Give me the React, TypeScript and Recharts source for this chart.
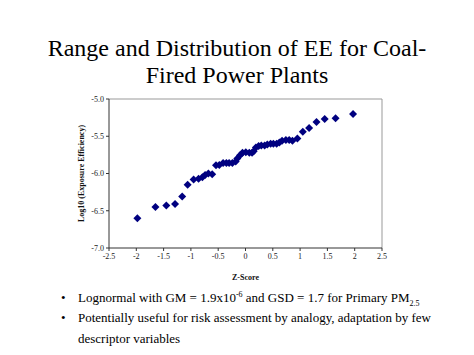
import { ScatterChart, Scatter, XAxis, YAxis, ReferenceLine } from 'recharts'

const zScores = [
  -1.98, -1.65, -1.45, -1.29, -1.16, -1.06, -0.95, -0.86, -0.79, -0.74,
  -0.68, -0.61, -0.54, -0.48, -0.41, -0.35, -0.3, -0.24, -0.18, -0.15,
  -0.1, -0.055, 0.006, 0.07, 0.12, 0.15, 0.19, 0.24, 0.29, 0.35,
  0.4, 0.46, 0.51, 0.57, 0.62, 0.67, 0.74, 0.8, 0.86, 0.95,
  1.05, 1.165, 1.3, 1.45, 1.65, 1.97,
]
const logEE = [
  -6.6, -6.45, -6.43, -6.41, -6.31, -6.15, -6.08, -6.07, -6.05, -6.02,
  -6.0, -6.01, -5.89, -5.885, -5.86, -5.86, -5.86, -5.86, -5.84, -5.8,
  -5.755, -5.72, -5.715, -5.72, -5.72, -5.7, -5.65, -5.63, -5.625, -5.625,
  -5.61, -5.6, -5.6, -5.6, -5.585, -5.56, -5.55, -5.55, -5.56, -5.53,
  -5.44, -5.39, -5.31, -5.27, -5.26, -5.2,
]
const xTicks = [-2.5, -2, -1.5, -1, -0.5, 0, 0.5, 1, 1.5, 2, 2.5]
const yTicks = [-7.0, -6.5, -6.0, -5.5, -5.0]

const data = zScores.map((z, i) => ({ z, ee: logEE[i] }))

const serif = '"Liberation Serif", "Times New Roman", serif'

const Diamond = (props: any) => {
  const { cx, cy } = props
  const r = 4
  return (
    <polygon
      points={`${cx},${cy - r} ${cx + r},${cy} ${cx},${cy + r} ${cx - r},${cy}`}
      fill='#000080'
    />
  )
}

export default function App() {
  const tick = { fontSize: 8, fontFamily: serif, fill: '#222' }
  const line = { position: 'absolute' as const, lineHeight: '20px', whiteSpace: 'nowrap' as const }
  return (
    <div style={{ position: 'relative', width: 474, height: 355, margin: -8, background: '#fff', fontFamily: serif, color: '#000' }}>
      <div style={{ position: 'absolute', left: 0, top: 35, width: 474, textAlign: 'center', fontSize: 24, lineHeight: '27px' }}>
        Range and Distribution of EE for Coal-
        <br />
        Fired Power Plants
      </div>
      <ScatterChart width={474} height={355} margin={{ top: 99, right: 92, bottom: 75, left: 79 }} style={{ position: 'absolute', left: 0, top: 0 }}>
        <XAxis
          type='number'
          dataKey='z'
          domain={[-2.5, 2.5]}
          ticks={xTicks}
          tickFormatter={(v) => String(v)}
          height={32}
          stroke='#333'
          tick={tick}
          tickSize={3}
          label={{ value: 'Z-Score', position: 'insideBottom', offset: 0, style: { fontSize: 8, fontWeight: 'bold', fontFamily: serif, fill: '#111' } }}
        />
        <YAxis
          type='number'
          dataKey='ee'
          domain={[-7, -5]}
          ticks={yTicks}
          tickFormatter={(v) => v.toFixed(1)}
          width={30}
          stroke='#333'
          tick={tick}
          tickSize={3}
          label={{ value: 'Log10 (Exposure Efficiency)', angle: -90, position: 'insideLeft', offset: 2, style: { textAnchor: 'middle', fontSize: 8, fontWeight: 'bold', fontFamily: serif, fill: '#111' } }}
        />
        <ReferenceLine y={-5} stroke='#999' />
        <ReferenceLine x={2.5} stroke='#999' />
        <Scatter data={data} shape={Diamond} isAnimationActive={false} />
      </ScatterChart>
      <div style={{ position: 'absolute', left: 0, top: 0, width: 474, height: 355, fontSize: 13 }}>
        <div style={{ ...line, left: 61, top: 288 }}>•</div>
        <div style={{ ...line, left: 78, top: 288 }}>
          Lognormal with GM = 1.9x10<sup style={{ fontSize: 8, lineHeight: 0 }}>-6</sup> and GSD = 1.7 for Primary PM<sub style={{ fontSize: 8, lineHeight: 0 }}>2.5</sub>
        </div>
        <div style={{ ...line, left: 61, top: 308 }}>•</div>
        <div style={{ ...line, left: 78, top: 308 }}>
          Potentially useful for risk assessment by analogy, adaptation by few
          <br />
          <span style={{ display: 'inline-block', marginTop: 1 }}>descriptor variables</span>
        </div>
      </div>
    </div>
  )
}
